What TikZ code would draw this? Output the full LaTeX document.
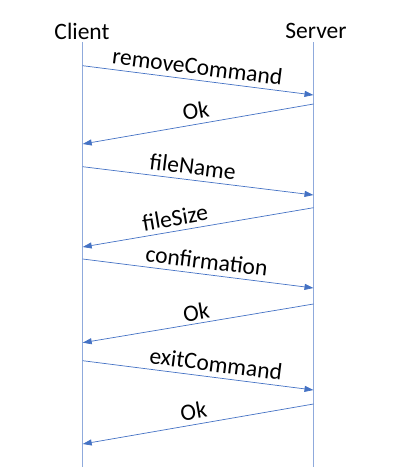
\documentclass[tikz,border=0pt]{standalone}
\usepackage{fontspec}
\setmainfont{Carlito}
\usetikzlibrary{arrows.meta}
\definecolor{msgblue}{HTML}{4472C4}
\definecolor{lifeblue}{HTML}{8FAADC}
\begin{document}
\begin{tikzpicture}[x=1pt,y=-1pt,
  lifeline/.style={draw=lifeblue,line width=0.8pt},
  msg/.style={draw=msgblue,line width=0.7pt,-{Triangle[length=9pt,width=6pt]}},
  lbl/.style={sloped,above,inner sep=0pt,yshift=5pt,font=\fontsize{23.5}{26}\selectfont},
  head/.style={font=\fontsize{23.5}{26}\selectfont,anchor=base,inner sep=0pt}]
\useasboundingbox (0,0) rectangle (416,467);
\node[head] (client) at (82,39) {Client};
\node[head] (server) at (316,38) {Server};
\coordinate (ctop) at (82.7,42);
\coordinate (cbot) at (82.7,467);
\coordinate (stop) at (313.5,42);
\coordinate (sbot) at (313.5,467);
\draw[lifeline] (ctop) -- (cbot);
\draw[lifeline] (stop) -- (sbot);
% message endpoints
\coordinate (c1) at (82.7,65.7);  \coordinate (s1) at (313.5,95);
\coordinate (s2) at (313.5,104);  \coordinate (c2) at (82.7,144);
\coordinate (c3) at (82.7,166.7); \coordinate (s3) at (313.5,195);
\coordinate (s4) at (313.5,207.7);\coordinate (c4) at (82.7,247);
\coordinate (c5) at (82.7,259);   \coordinate (s5) at (313.5,288);
\coordinate (s6) at (313.5,304);  \coordinate (c6) at (82.7,342.7);
\coordinate (c7) at (82.7,360.7); \coordinate (s7) at (313.5,390);
\coordinate (s8) at (313.5,404);  \coordinate (c8) at (82.7,444);
\draw[msg] (c1) -- node[lbl,pos=0.49] {removeCommand} (s1);
\draw[msg] (s2) -- node[lbl,pos=0.5] {Ok} (c2);
\draw[msg] (c3) -- node[lbl,pos=0.47] {fileName} (s3);
\draw[msg] (s4) -- node[lbl,pos=0.59] {fileSize} (c4);
\draw[msg] (c5) -- node[lbl,pos=0.53] {confirmation} (s5);
\draw[msg] (s6) -- node[lbl,pos=0.5,yshift=-2pt] {Ok} (c6);
\draw[msg] (c7) -- node[lbl,pos=0.57] {exitCommand} (s7);
\draw[msg] (s8) -- node[lbl,pos=0.51] {Ok} (c8);
\end{tikzpicture}
\end{document}
